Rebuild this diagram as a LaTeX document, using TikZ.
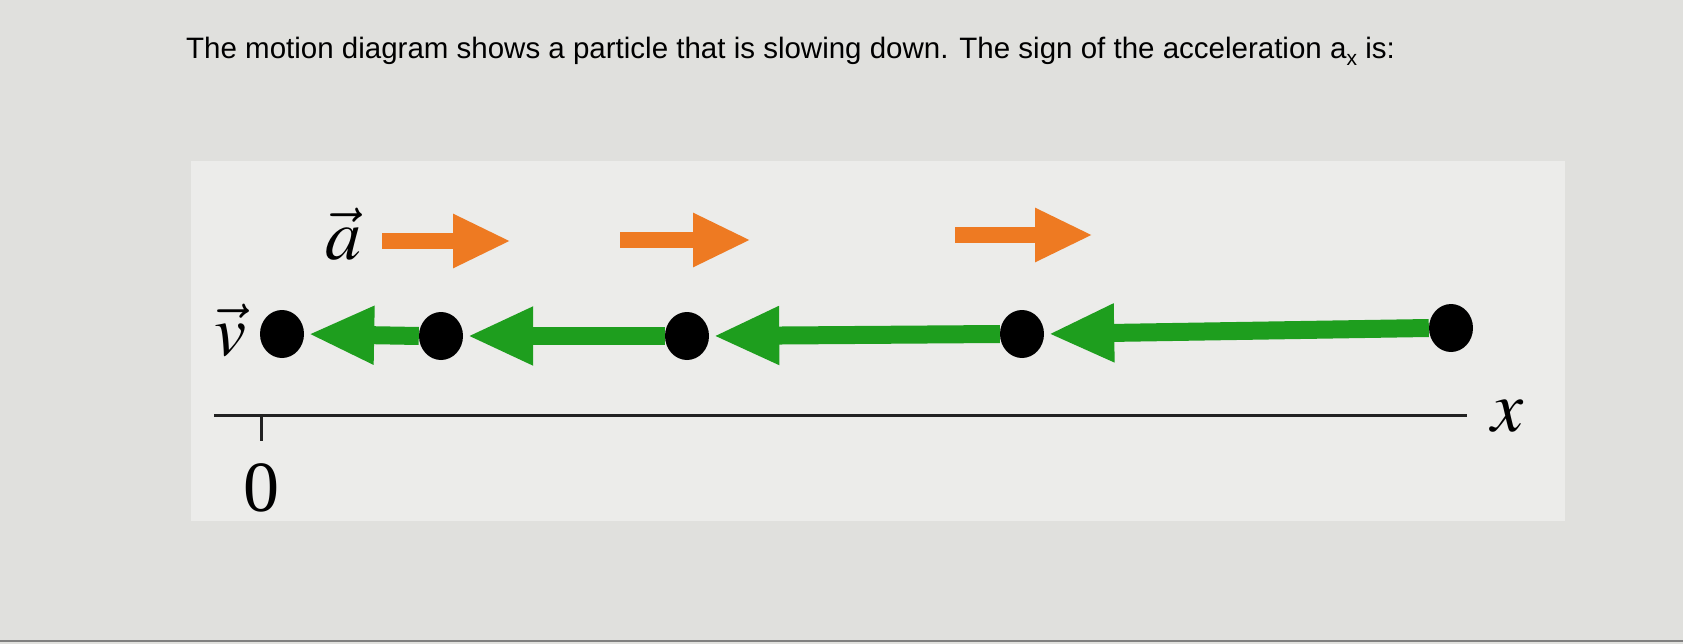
\documentclass[tikz,border=0pt]{standalone}
\usepackage{mathptmx}
\usepackage[no-math]{fontspec}
\setmainfont{Liberation Sans}
\newfontfamily\tnr{Liberation Serif}
\usetikzlibrary{arrows.meta,shapes.geometric}
\definecolor{bgout}{HTML}{E0E0DD}
\definecolor{bgpanel}{HTML}{ECECEA}
\definecolor{aorange}{HTML}{EE7A22}
\definecolor{vgreen}{HTML}{1E9E1E}
\definecolor{inkgray}{HTML}{222222}
\tikzset{
  dot/.style={ellipse,fill=black,minimum width=44pt,minimum height=48pt,inner sep=0pt},
  varrow/.style={draw=vgreen,line width=18pt,shorten >=4pt,-{Triangle[length=66pt,width=54pt,fill=vgreen]}},
  aarrow/.style={draw=aorange,line width=16pt,-{Triangle[length=58pt,width=50pt,fill=aorange]}},
  biglabel/.style={inner sep=0pt,font=\fontsize{72}{72}\selectfont},
  title/.style={anchor=west,inner sep=0pt,font=\fontsize{29.5}{34}\selectfont}
}
\begin{document}
\begin{tikzpicture}[x=1pt,y=-1pt]
\fill[bgout] (0,0) rectangle (1683,644);
\useasboundingbox (0,0) rectangle (1683,644);
\fill[bgpanel] (191,161) rectangle (1565,521);
\draw[gray,line width=1.5pt] (0,641) -- (1683,641);

\node[title] (t) at (186,51) {The motion diagram shows a particle that is slowing down. The sign of the acceleration a{\fontsize{21}{21}\selectfont\raisebox{-7pt}{x}} is:};

% particle positions
\node[dot] (d1) at (282,334) {};
\node[dot] (d2) at (441,336) {};
\node[dot] (d3) at (687,336) {};
\node[dot] (d4) at (1022,334) {};
\node[dot] (d5) at (1451,328) {};

% velocity arrows
\draw[varrow] (d2.west) -- (d1.east);
\draw[varrow] (d3.west) -- (d2.east);
\draw[varrow] (d4.west) -- (d3.east);
\draw[varrow] (d5.west) -- (d4.east);

% acceleration arrows
\coordinate (a1s) at (382,241); \coordinate (a1e) at (511,241);
\coordinate (a2s) at (620,240); \coordinate (a2e) at (751,240);
\coordinate (a3s) at (955,235); \coordinate (a3e) at (1093,235);
\draw[aarrow] (a1s) -- (a1e);
\draw[aarrow] (a2s) -- (a2e);
\draw[aarrow] (a3s) -- (a3e);

% labels
\node[biglabel] (la) at (343,234) {$\vec{a}$};
\node[biglabel] (lv) at (230,330) {$\vec{v}$};

% axis
\coordinate (ax0) at (214,415);
\coordinate (ax1) at (1467,415);
\draw[inkgray,line width=3pt] (ax0) -- (ax1);
\coordinate (tk0) at (261,415);
\coordinate (tk1) at (261,441);
\draw[inkgray,line width=3pt] (tk0) -- (tk1);
\node[biglabel] (zero) at (261,488) {\tnr 0};
\node[biglabel] (lx) at (1508,416) {$x$};
\end{tikzpicture}
\end{document}
